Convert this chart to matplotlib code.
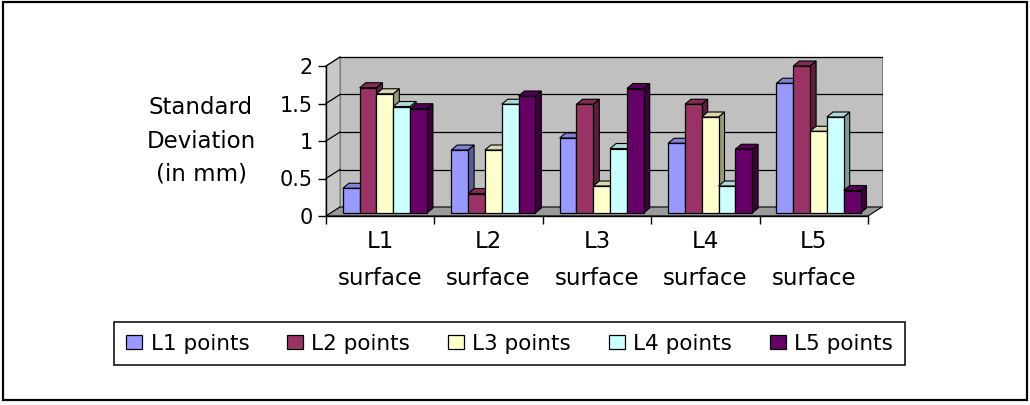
import numpy as np
import matplotlib
matplotlib.use('Agg')
import matplotlib.pyplot as plt
from matplotlib.patches import Polygon, Rectangle
from matplotlib import colors as mcolors

# data
categories = ['L1\nsurface', 'L2\nsurface', 'L3\nsurface', 'L4\nsurface', 'L5\nsurface']
series_names = ['L1 points', 'L2 points', 'L3 points', 'L4 points', 'L5 points']
l1_points = [0.33, 0.84, 1.00, 0.93, 1.73]
l2_points = [1.67, 0.26, 1.45, 1.45, 1.96]
l3_points = [1.59, 0.84, 0.36, 1.28, 1.09]
l4_points = [1.42, 1.45, 0.86, 0.36, 1.28]
l5_points = [1.39, 1.56, 1.66, 0.85, 0.30]
yticks = [0, 0.5, 1, 1.5, 2]
ytick_labels = ['0', '0.5', '1', '1.5', '2']

series = [l1_points, l2_points, l3_points, l4_points, l5_points]
bar_colors = ['#9999FF', '#993366', '#FFFFCC', '#CCFFFF', '#660066']


def shade(c, f):
    r, g, b = mcolors.to_rgb(c)
    return (r * f, g * f, b * f)


W, H = 1030, 405
fig = plt.figure(figsize=(W / 100, H / 100), dpi=100)

# front plane of the plot area in pixels
left, right, y0, y2 = 326, 868, 216, 66
ax = fig.add_axes([left / W, (H - y0) / H, (right - left) / W, (y0 - y2) / H])
ncat = len(categories)
ax.set_xlim(0, ncat)
ax.set_ylim(0, 2)
ax.patch.set_visible(False)

ux = (right - left) / ncat   # px per category
uy = (y0 - y2) / 2           # px per unit
wx, wy = 14 / ux, 9 / uy     # depth of the walls
fx, fy = 4.7 / ux, 3 / uy    # where the bar fronts sit
bx, by = 6 / ux, 5 / uy      # depth of a bar

top = yticks[-1]
wall_c = '#C0C0C0'
# side wall
ax.add_patch(Polygon([(0, 0), (wx, wy), (wx, top + wy), (0, top)], closed=True,
                     fc='#C8C8C8', ec='#808080', lw=0.8, clip_on=False, zorder=0.5))
# back wall
ax.add_patch(Polygon([(wx, wy), (ncat + wx, wy), (ncat + wx, top + wy), (wx, top + wy)],
                     closed=True, fc=wall_c, ec='#808080', lw=0.8, clip_on=False, zorder=0.5))
# floor
ax.add_patch(Polygon([(0, 0), (ncat, 0), (ncat + wx, wy), (wx, wy)], closed=True,
                     fc='#9A9A9A', ec='black', lw=0.8, clip_on=False, zorder=0.6))
# gridlines
for v in yticks[1:]:
    ax.plot([wx, ncat + wx], [v + wy, v + wy], color='black', lw=0.9, clip_on=False, zorder=0.7)
    ax.plot([0, wx], [v, v + wy], color='black', lw=0.9, clip_on=False, zorder=0.7)

group_w = 0.775
bw = group_w / len(series)
handles = []
for j, (vals, col) in enumerate(zip(series, bar_colors)):
    x = np.arange(ncat) + (1 - group_w) / 2 + j * bw + fx
    z = 3 + j
    for xi, v in zip(x, vals):
        # side face
        ax.add_patch(Polygon([(xi + bw, fy), (xi + bw + bx, fy + by), (xi + bw + bx, fy + v + by),
                              (xi + bw, fy + v)], closed=True, fc=shade(col, 0.6), ec='black',
                             lw=0.8, clip_on=False, zorder=z))
        # top face
        ax.add_patch(Polygon([(xi, fy + v), (xi + bx, fy + v + by), (xi + bw + bx, fy + v + by),
                              (xi + bw, fy + v)], closed=True, fc=shade(col, 0.85), ec='black',
                             lw=0.8, clip_on=False, zorder=z))
    b = ax.bar(x, vals, width=bw, bottom=fy, align='edge', color=col, edgecolor='black',
               lw=0.9, zorder=z + 0.5, clip_on=False)
    handles.append(b)

for s in ['top', 'right']:
    ax.spines[s].set_visible(False)
for s in ['left', 'bottom']:
    ax.spines[s].set_linewidth(1)
    ax.spines[s].set_zorder(2)

ax.set_yticks(yticks)
ax.set_yticklabels(ytick_labels)
ax.tick_params(axis='y', direction='out', length=6, width=1, pad=3.5, labelsize=15)
ax.set_xticks(np.arange(ncat + 1))
ax.set_xticklabels([])
ax.tick_params(axis='x', which='major', direction='out', length=5.5, width=1)
ax.set_xticks(np.arange(ncat) + 0.5, minor=True)
ax.set_xticklabels(categories, minor=True, linespacing=1.8)
ax.tick_params(axis='x', which='minor', length=0, pad=10, labelsize=16.5)

fig.text(201 / W, 1 - 141 / H, 'Standard\nDeviation\n(in mm)', ha='center', va='center',
         fontsize=16.5, linespacing=1.56, multialignment='center')

leg = fig.legend(handles, series_names, ncol=5, mode='expand', loc='center',
                 bbox_to_anchor=(114 / W, (H - 367) / H, 791 / W, 47 / H), borderaxespad=0,
                 frameon=True, fancybox=False, edgecolor='black', framealpha=1,
                 handlelength=0.75, handleheight=0.65, handletextpad=0.4,
                 borderpad=0.55, fontsize=15.5)
leg.get_frame().set_linewidth(1.1)

fig.add_artist(Rectangle((2.5 / W, (H - 400) / H), 1024 / W, 398 / H, transform=fig.transFigure,
                         fill=False, ec='black', lw=1.6))

fig.savefig('out.png', dpi=100)
